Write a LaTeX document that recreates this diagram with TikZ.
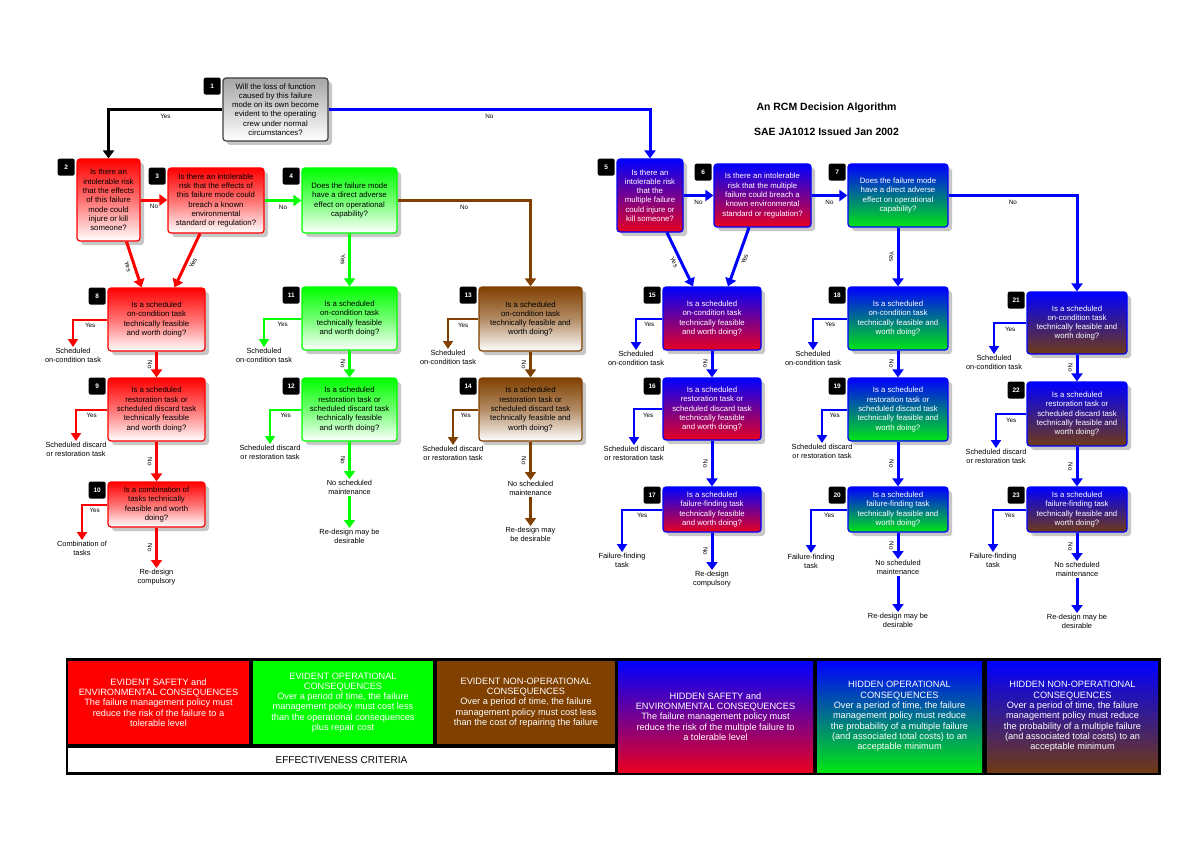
\documentclass[tikz,border=0pt]{standalone}
\usepackage{fontspec}
\setmainfont{Liberation Sans}
\usetikzlibrary{arrows.meta}
\usetikzlibrary{shadows}

\definecolor{rcmred}{RGB}{255,0,0}
\definecolor{rcmgreen}{RGB}{0,255,0}
\definecolor{rcmbrown}{RGB}{128,64,0}
\definecolor{rcmblue}{RGB}{0,0,255}
\definecolor{rcmcrimson}{RGB}{232,0,32}
\definecolor{rcmlime}{RGB}{0,230,20}
\definecolor{rcmmud}{RGB}{112,58,20}

\newcommand{\boxfont}{\fontsize{7.8}{9.3}\selectfont}
\newcommand{\outfont}{\fontsize{7.4}{9}\selectfont}
\newcommand{\lblfont}{\fontsize{6.3}{7}\selectfont}
\newcommand{\legfont}{\fontsize{9.2}{10.3}\selectfont}
\newcommand{\titfont}{\bfseries\fontsize{10.5}{12}\selectfont}

\tikzset{
  qbox/.style 2 args={rectangle, rounded corners=3pt, line width=1.2pt, align=center,
    inner sep=1pt, minimum width=#1, minimum height=#2, font=\boxfont,
    drop shadow={shadow xshift=4pt, shadow yshift=-4pt, fill=black!22, opacity=1}},
  greyq/.style={draw=black!75, top color=black!35, bottom color=white},
  redq/.style={draw=rcmred, top color=rcmred, bottom color=white, middle color=rcmred!55!white},
  greenq/.style={draw=rcmgreen, top color=rcmgreen, bottom color=white, middle color=rcmgreen!55!white},
  brownq/.style={draw=rcmbrown, top color=rcmbrown, bottom color=white, middle color=rcmbrown!60!white},
  hredq/.style={draw=rcmblue, top color=rcmblue, bottom color=rcmcrimson, text=white},
  hgreenq/.style={draw=rcmblue, top color=rcmblue, bottom color=rcmlime, text=white},
  hbrownq/.style={draw=rcmblue, top color=rcmblue, bottom color=rcmmud, text=white},
  badge/.style={fill=black, rounded corners=2pt, minimum size=17pt, inner sep=0pt,
    text=white, font=\bfseries\fontsize{6.5}{7}\selectfont, anchor=north east, xshift=-1.5pt},
  outtext/.style={align=center, anchor=north, inner sep=1pt, font=\outfont},
  lbl/.style={font=\lblfont, inner sep=2.8pt, text=black},
  titletext/.style={font=\titfont},
  mainarr/.style={line width=3pt, -{Triangle[width=11pt,length=8pt]}},
  sidearr/.style={line width=2pt, -{Triangle[width=10pt,length=8pt]}},
  legcell/.style={align=center, inner sep=0pt, text=white, font=\legfont}
}

\begin{document}
\begin{tikzpicture}[x=1pt, y=-1pt]
\useasboundingbox (0,0) rectangle (1200,848);

% title
\node[titletext] (title) at (826.5,108) {An RCM Decision Algorithm};
\node[titletext] (issue) at (826.5,132) {SAE JA1012 Issued Jan 2002};

% decision questions
\node[qbox={105}{63}, greyq] (n1) at (275.5,109.5) {Will the loss of function\\caused by this failure\\mode on its own become\\evident to the operating\\crew under normal\\circumstances?};
\node[qbox={63}{82}, redq] (n2) at (108.5,200) {Is there an\\intolerable risk\\that the effects\\of this failure\\mode could\\injure or kill\\someone?};
\node[qbox={96}{65}, redq] (n3) at (216,200.5) {Is there an intolerable\\risk that the effects of\\this failure mode could\\breach a known\\environmental\\standard or regulation?};
\node[qbox={95}{65}, greenq] (n4) at (349.5,200.5) {Does the failure mode\\have a direct adverse\\effect on operational\\capability?};
\node[qbox={66}{73}, hredq] (n5) at (650,195.5) {Is there an\\intolerable risk\\that the\\multiple failure\\could injure or\\kill someone?};
\node[qbox={97}{63}, hredq] (n6) at (762.5,195.5) {Is there an intolerable\\risk that the multiple\\failure could breach a\\known environmental\\standard or regulation?};
\node[qbox={100}{63}, hgreenq] (n7) at (898,195.5) {Does the failure mode\\have a direct adverse\\effect on operational\\capability?};

\node[qbox={97}{63}, redq] (n8) at (156.5,319.5) {Is a scheduled\\on-condition task\\technically feasible\\and worth doing?};
\node[qbox={97}{63}, redq] (n9) at (156.5,409.5) {Is a scheduled\\restoration task or\\scheduled discard task\\technically feasible\\and worth doing?};
\node[qbox={97}{45}, redq] (n10) at (156.5,504.5) {Is a combination of\\tasks technically\\feasible and worth\\doing?};
\node[qbox={95}{63}, greenq] (n11) at (349.5,318.5) {Is a scheduled\\on-condition task\\technically feasible\\and worth doing?};
\node[qbox={95}{63}, greenq] (n12) at (349.5,409.5) {Is a scheduled\\restoration task or\\scheduled discard task\\technically feasible\\and worth doing?};
\node[qbox={103}{64}, brownq] (n13) at (530.5,319) {Is a scheduled\\on-condition task\\technically feasible and\\worth doing?};
\node[qbox={103}{63}, brownq] (n14) at (530.5,409.5) {Is a scheduled\\restoration task or\\scheduled discard task\\technically feasible and\\worth doing?};
\node[qbox={98}{63}, hredq] (n15) at (712,318.5) {Is a scheduled\\on-condition task\\technically feasible\\and worth doing?};
\node[qbox={98}{62}, hredq] (n16) at (712,409) {Is a scheduled\\restoration task or\\scheduled discard task\\technically feasible\\and worth doing?};
\node[qbox={98}{45}, hredq] (n17) at (712,509.5) {Is a scheduled\\failure-finding task\\technically feasible\\and worth doing?};
\node[qbox={100}{63}, hgreenq] (n18) at (898,318.5) {Is a scheduled\\on-condition task\\technically feasible and\\worth doing?};
\node[qbox={100}{63}, hgreenq] (n19) at (898,409.5) {Is a scheduled\\restoration task or\\scheduled discard task\\technically feasible and\\worth doing?};
\node[qbox={100}{45}, hgreenq] (n20) at (898,509.5) {Is a scheduled\\failure-finding task\\technically feasible and\\worth doing?};
\node[qbox={100}{62}, hbrownq] (n21) at (1077,323) {Is a scheduled\\on-condition task\\technically feasible and\\worth doing?};
\node[qbox={100}{64}, hbrownq] (n22) at (1077,414) {Is a scheduled\\restoration task or\\scheduled discard task\\technically feasible and\\worth doing?};
\node[qbox={100}{45}, hbrownq] (n23) at (1077,509.5) {Is a scheduled\\failure-finding task\\technically feasible and\\worth doing?};

% number badges
\foreach \i in {1,...,23}
  \node[badge] (b\i) at (n\i.north west) {\i};

% outcomes
\node[outtext] (o8) at (73,347) {Scheduled\\on-condition task};
\node[outtext] (o9) at (76,441) {Scheduled discard\\or restoration task};
\node[outtext] (o10) at (82,540) {Combination of\\tasks};
\node[outtext] (r10) at (156.5,568) {Re-design\\compulsory};
\node[outtext] (o11) at (264,347) {Scheduled\\on-condition task};
\node[outtext] (o12) at (270,444) {Scheduled discard\\or restoration task};
\node[outtext] (m12) at (349.5,479) {No scheduled\\maintenance};
\node[outtext] (r12) at (349.5,528) {Re-design may be\\desirable};
\node[outtext] (o13) at (448,349) {Scheduled\\on-condition task};
\node[outtext] (o14) at (453,445) {Scheduled discard\\or restoration task};
\node[outtext] (m14) at (530.5,480) {No scheduled\\maintenance};
\node[outtext] (r14) at (530.5,526) {Re-design may\\be desirable};
\node[outtext] (o15) at (636,350) {Scheduled\\on-condition task};
\node[outtext] (o16) at (634,445) {Scheduled discard\\or restoration task};
\node[outtext] (o17) at (622,552) {Failure-finding\\task};
\node[outtext] (r17) at (712,570) {Re-design\\compulsory};
\node[outtext] (o18) at (813,350) {Scheduled\\on-condition task};
\node[outtext] (o19) at (822,443) {Scheduled discard\\or restoration task};
\node[outtext] (o20) at (811,553) {Failure-finding\\task};
\node[outtext] (m20) at (898,559) {No scheduled\\maintenance};
\node[outtext] (r20) at (898,612) {Re-design may be\\desirable};
\node[outtext] (o21) at (994,354) {Scheduled\\on-condition task};
\node[outtext] (o22) at (996,448) {Scheduled discard\\or restoration task};
\node[outtext] (o23) at (993,552) {Failure-finding\\task};
\node[outtext] (m23) at (1077,561) {No scheduled\\maintenance};
\node[outtext] (r23) at (1077,613) {Re-design may be\\desirable};

% top level
\draw[mainarr, black] (n1.west) -| (n2.north) node[lbl, pos=.25, below] {Yes};
\draw[mainarr, rcmblue] (n1.east) -| (n5.north) node[lbl, pos=.25, below] {No};

% evident consequences
\draw[mainarr, rcmred] (n2.east) -- (n2.east -| n3.west) node[lbl, midway, below] {No};
\draw[mainarr, rcmgreen] (n3.east) -- (n3.east -| n4.west) node[lbl, midway, below] {No};
\draw[mainarr, rcmbrown] (n4.east) -| (n13.north) node[lbl, pos=.25, below] {No};
\draw[mainarr, rcmgreen] (n4) -- (n11) node[lbl, midway, sloped, below] {Yes};
\draw[mainarr, rcmred] ([xshift=18pt]n2.south) -- ([xshift=-15pt]n8.north) node[lbl, midway, sloped, below] {Yes};
\draw[mainarr, rcmred] ([xshift=-16pt]n3.south) -- ([xshift=18pt]n8.north) node[lbl, midway, sloped, below] {Yes};

\foreach \a/\b in {n8/n9, n9/n10, n10/r10}
  \draw[mainarr, rcmred] (\a) -- (\b) node[lbl, midway, sloped, below] {No};
\foreach \q/\o in {n8/o8, n9/o9, n10/o10}
  \draw[sidearr, rcmred] (\q.west) -| (\o.north) node[lbl, pos=.25, below] {Yes};

\foreach \a/\b in {n11/n12, n12/m12}
  \draw[mainarr, rcmgreen] (\a) -- (\b) node[lbl, midway, sloped, below] {No};
\draw[mainarr, rcmgreen] (m12) -- (r12);
\foreach \q/\o in {n11/o11, n12/o12}
  \draw[sidearr, rcmgreen] (\q.west) -| (\o.north) node[lbl, pos=.25, below] {Yes};

\foreach \a/\b in {n13/n14, n14/m14}
  \draw[mainarr, rcmbrown] (\a) -- (\b) node[lbl, midway, sloped, below] {No};
\draw[mainarr, rcmbrown] (m14) -- (r14);
\foreach \q/\o in {n13/o13, n14/o14}
  \draw[sidearr, rcmbrown] (\q.west) -| (\o.north) node[lbl, pos=.25, below] {Yes};

% hidden consequences
\draw[mainarr, rcmblue] (n5.east) -- (n5.east -| n6.west) node[lbl, midway, below] {No};
\draw[mainarr, rcmblue] (n6.east) -- (n6.east -| n7.west) node[lbl, midway, below] {No};
\draw[mainarr, rcmblue] (n7.east) -| (n21.north) node[lbl, pos=.25, below] {No};
\draw[mainarr, rcmblue] (n7) -- (n18) node[lbl, midway, sloped, below] {Yes};
\draw[mainarr, rcmblue] ([xshift=17pt]n5.south) -- ([xshift=-19pt]n15.north) node[lbl, midway, sloped, below] {Yes};
\draw[mainarr, rcmblue] ([xshift=-13.5pt]n6.south) -- ([xshift=16pt]n15.north) node[lbl, midway, sloped, below] {Yes};

\foreach \a/\b in {n15/n16, n16/n17, n17/r17, n18/n19, n19/n20, n20/m20, n21/n22, n22/n23, n23/m23}
  \draw[mainarr, rcmblue] (\a) -- (\b) node[lbl, midway, sloped, below] {No};
\draw[mainarr, rcmblue] (m20) -- (r20);
\draw[mainarr, rcmblue] (m23) -- (r23);
\foreach \q/\o in {n15/o15, n16/o16, n17/o17, n18/o18, n19/o19, n20/o20, n21/o21, n22/o22, n23/o23}
  \draw[sidearr, rcmblue] (\q.west) -| (\o.north) node[lbl, pos=.25, below] {Yes};

% effectiveness criteria
\fill[black] (65.5,658) rectangle (1161,775);
\node[legcell, fill=rcmred, minimum width=181, minimum height=83] (ev1) at (158.5,702.5) {EVIDENT SAFETY and\\ENVIRONMENTAL CONSEQUENCES\\The failure management policy must\\reduce the risk of the failure to a\\tolerable level};
\node[legcell, fill=rcmgreen, minimum width=180, minimum height=83] (ev2) at (343,702.5) {EVIDENT OPERATIONAL\\CONSEQUENCES\\Over a period of time, the failure\\management policy must cost less\\than the operational consequences\\plus repair cost};
\node[legcell, fill=rcmbrown, minimum width=178, minimum height=83] (ev3) at (526,702.5) {EVIDENT NON-OPERATIONAL\\CONSEQUENCES\\Over a period of time, the failure\\management policy must cost less\\than the cost of repairing the failure};
\node[legcell, fill=white, text=black, font=\fontsize{10}{12}\selectfont, minimum width=547, minimum height=24] (crit) at (341.5,760) {EFFECTIVENESS CRITERIA};
\node[legcell, top color=rcmblue, bottom color=rcmcrimson, minimum width=195, minimum height=111] (hd1) at (715.5,716.5) {HIDDEN SAFETY and\\ENVIRONMENTAL CONSEQUENCES\\The failure management policy must\\reduce the risk of the multiple failure to\\a tolerable level};
\node[legcell, top color=rcmblue, bottom color=rcmlime, minimum width=165, minimum height=111] (hd2) at (899.5,716.5) {HIDDEN OPERATIONAL\\CONSEQUENCES\\Over a period of time, the failure\\management policy must reduce\\the probability of a multiple failure\\(and associated total costs) to an\\acceptable minimum};
\node[legcell, top color=rcmblue, bottom color=rcmmud, minimum width=171, minimum height=111] (hd3) at (1072.5,716.5) {HIDDEN NON-OPERATIONAL\\CONSEQUENCES\\Over a period of time, the failure\\management policy must reduce\\the probability of a multiple failure\\(and associated total costs) to an\\acceptable minimum};
\end{tikzpicture}
\end{document}
